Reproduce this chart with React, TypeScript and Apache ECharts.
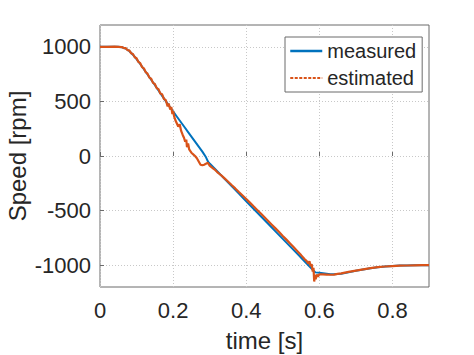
import React, { useEffect, useRef } from "react";
import * as echarts from "echarts";

const xTickValues = [0, 0.2, 0.4, 0.6, 0.8];
const yTickValues = [-1000, -500, 0, 500, 1000];

const timeMeasured = [
  0, 0.02, 0.04, 0.05, 0.06, 0.07, 0.08, 0.09, 0.1, 0.11, 0.12, 0.13, 0.14, 0.15, 0.16, 0.17,
  0.18, 0.19, 0.2, 0.21, 0.22, 0.23, 0.24, 0.25, 0.26, 0.27, 0.28, 0.29, 0.296, 0.3, 0.32, 0.34,
  0.36, 0.38, 0.4, 0.42, 0.44, 0.46, 0.48, 0.5, 0.52, 0.54, 0.56, 0.58, 0.589, 0.6, 0.61, 0.62,
  0.63, 0.64, 0.65, 0.66, 0.68, 0.7, 0.72, 0.74, 0.76, 0.78, 0.8, 0.82, 0.84, 0.86, 0.88, 0.9,
];
const speedMeasured = [
  1000, 1000, 1000, 1000, 996, 985, 962, 928, 888, 843, 795, 747, 698, 650, 600, 551,
  503, 455, 408, 362, 316, 270, 224, 178, 132, 86, 40, -12, -55, -69, -138, -207,
  -276, -345, -414, -483, -552, -621, -690, -759, -828, -897, -966, -1035, -1066, -1070, -1074, -1078,
  -1083, -1084, -1082, -1078, -1066, -1052, -1040, -1028, -1019, -1012, -1007, -1004, -1002, -1001, -1000, -1000,
];

const timeEstimated = [
  0, 0.02, 0.04, 0.05, 0.06, 0.065, 0.07, 0.075, 0.08, 0.085, 0.09, 0.095, 0.1, 0.105, 0.11, 0.115,
  0.12, 0.125, 0.13, 0.135, 0.14, 0.145, 0.15, 0.155, 0.16, 0.165, 0.17, 0.175, 0.18, 0.185, 0.188, 0.192,
  0.195, 0.198, 0.2, 0.203, 0.206, 0.21, 0.214, 0.218, 0.222, 0.226, 0.23, 0.233, 0.236, 0.238, 0.241, 0.244,
  0.25, 0.255, 0.26, 0.265, 0.27, 0.275, 0.28, 0.285, 0.29, 0.295, 0.3, 0.305, 0.31, 0.315, 0.32, 0.325,
  0.33, 0.34, 0.35, 0.36, 0.37, 0.38, 0.39, 0.4, 0.41, 0.42, 0.43, 0.44, 0.45, 0.46, 0.47, 0.48,
  0.49, 0.5, 0.51, 0.52, 0.53, 0.54, 0.55, 0.56, 0.565, 0.57, 0.573, 0.576, 0.579, 0.582, 0.584, 0.586,
  0.588, 0.59, 0.593, 0.596, 0.6, 0.61, 0.62, 0.63, 0.64, 0.65, 0.66, 0.67, 0.68, 0.7, 0.72, 0.74,
  0.76, 0.78, 0.8, 0.82, 0.84, 0.86, 0.88, 0.9,
];
const speedEstimated = [
  1000, 1000, 1002, 1000, 998, 988, 989, 970, 968, 942, 935, 905, 895, 862, 850, 815,
  803, 768, 755, 718, 708, 670, 660, 622, 612, 572, 565, 522, 512, 455, 480, 425,
  450, 385, 412, 360, 330, 300, 270, 290, 230, 195, 165, 130, 150, 80, 115, 60,
  30, 15, 0, -20, -50, -80, -85, -80, -70, -62, -88, -102, -115, -128, -145, -160,
  -172, -203, -234, -266, -297, -330, -362, -394, -427, -461, -494, -527, -561, -595, -629, -663,
  -697, -732, -766, -801, -836, -872, -908, -946, -960, -985, -965, -1010, -990, -1060, -1025, -1150,
  -1090, -1130, -1085, -1105, -1085, -1084, -1086, -1088, -1086, -1080, -1075, -1068, -1062, -1050, -1038, -1027,
  -1018, -1012, -1008, -1005, -1003, -1001, -1000, -1000,
];

const FONT = "'Liberation Sans', Arial, Helvetica, sans-serif";
const TEXT = "#262626";

export default function App() {
  const ref = useRef<HTMLDivElement>(null);
  useEffect(() => {
    if (!ref.current) return;
    const chart = echarts.init(ref.current, undefined, { renderer: "svg" });
    const measured = timeMeasured.map((t, i) => [t, speedMeasured[i]]);
    const estimated = timeEstimated.map((t, i) => [t, speedEstimated[i]]);
    chart.setOption({
      animation: false,
      backgroundColor: "#ffffff",
      textStyle: { fontFamily: FONT },
      grid: {
        left: 100,
        right: 45,
        top: 25,
        bottom: 68,
        containLabel: false,
        outerBoundsMode: "none",
        show: true,
        borderColor: "#6b6b6b",
        borderWidth: 1,
        backgroundColor: "transparent",
      },
      legend: {
        orient: "vertical",
        left: 285,
        top: 37,
        itemWidth: 32,
        itemHeight: 14,
        itemGap: 7,
        padding: [4, 6, 4, 4],
        backgroundColor: "#ffffff",
        borderColor: "#6b6b6b",
        borderWidth: 1,
        borderRadius: 0,
        itemStyle: { opacity: 0 },
        textStyle: { fontSize: 20, color: TEXT, fontFamily: FONT },
        data: [
          { name: "measured", lineStyle: { width: 2.5 } },
          { name: "estimated", lineStyle: { width: 2, type: [3, 1.5] } },
        ],
      },
      xAxis: {
        type: "value",
        min: 0,
        max: 0.9,
        interval: 0.05,
        name: "time [s]",
        nameLocation: "middle",
        nameGap: 41,
        nameMoveOverlap: false,
        nameTextStyle: { fontSize: 24, color: TEXT, fontFamily: FONT },
        axisLine: { show: false },
        axisTick: {
          show: true,
          inside: true,
          length: 4,
          customValues: xTickValues,
          lineStyle: { color: "#6b6b6b" },
        },
        axisLabel: {
          customValues: xTickValues,
          fontSize: 22,
          color: TEXT,
          fontFamily: FONT,
          margin: 12,
          formatter: (v: number) => String(Math.round(v * 10) / 10),
        },
        splitLine: {
          show: true,
          lineStyle: { type: [1, 2], color: "#c8c8c8", width: 1 },
        },
      },
      yAxis: {
        type: "value",
        min: -1200,
        max: 1200,
        interval: 100,
        name: "Speed [rpm]",
        nameLocation: "middle",
        nameGap: 71,
        nameMoveOverlap: false,
        nameTextStyle: { fontSize: 24, color: TEXT, fontFamily: FONT },
        axisLine: { show: false },
        axisTick: {
          show: true,
          inside: true,
          length: 4,
          customValues: yTickValues,
          lineStyle: { color: "#6b6b6b" },
        },
        axisLabel: {
          customValues: yTickValues,
          fontSize: 22,
          color: TEXT,
          fontFamily: FONT,
          margin: 9,
          formatter: (v: number) => String(v),
        },
        splitLine: {
          show: true,
          lineStyle: { type: [1, 2], color: "#c8c8c8", width: 1 },
        },
      },
      series: [
        {
          name: "measured",
          type: "line",
          data: measured,
          symbol: "none",
          color: "#0072BD",
          lineStyle: { color: "#0072BD", width: 2 },
        },
        {
          name: "estimated",
          type: "line",
          data: estimated,
          symbol: "none",
          color: "#D95319",
          lineStyle: { color: "#D95319", width: 2.2 },
        },
      ],
    });
    return () => chart.dispose();
  }, []);
  return (
    <div
      ref={ref}
      style={{ position: "fixed", left: 0, top: 0, width: 474, height: 355, background: "#fff" }}
    />
  );
}
